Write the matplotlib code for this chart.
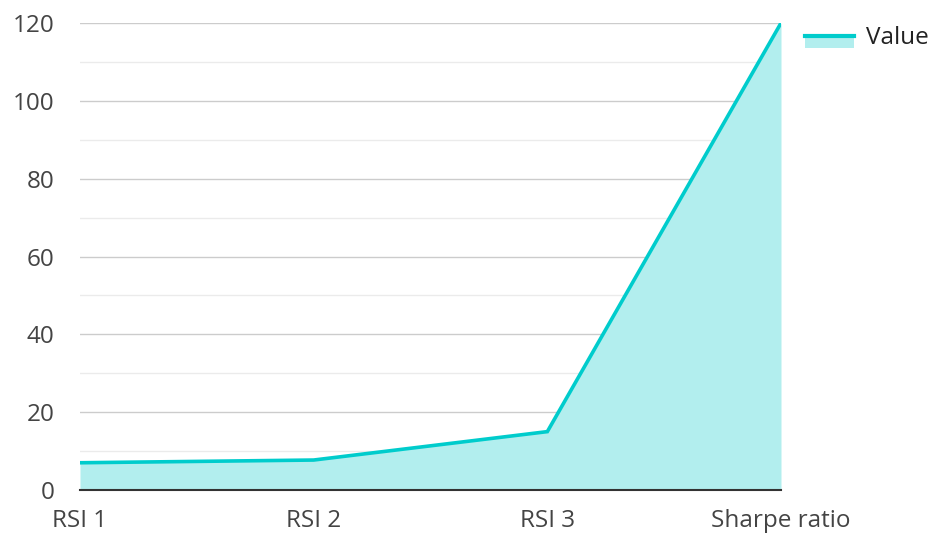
import matplotlib
matplotlib.use("Agg")
import matplotlib.pyplot as plt
from matplotlib.lines import Line2D
from matplotlib.patches import Patch, Rectangle
from matplotlib.legend_handler import HandlerPatch

categories = ["RSI 1", "RSI 2", "RSI 3", "Sharpe ratio"]
values = [7, 7.7, 15, 120]
series_name = "Value"

LINE = "#00cccc"
FILL = "#b2eeee"

plt.rcParams["font.family"] = ["Open Sans", "Noto Sans", "DejaVu Sans"]

fig = plt.figure(figsize=(9.3, 5.33), dpi=100)
ax = fig.add_axes([80 / 930, 1 - 490 / 533, 701 / 930, 467 / 533])

x = list(range(len(categories)))
ax.fill_between(x, values, 0, color=FILL, linewidth=0, zorder=2)
ax.plot(x, values, color=LINE, linewidth=2.6, zorder=3, solid_joinstyle="miter")

ax.set_xlim(0, len(categories) - 1)
ax.set_ylim(0, 120)
ax.set_yticks(range(0, 121, 20))
ax.set_yticks(range(10, 120, 20), minor=True)
ax.set_xticks(x)
ax.set_xticklabels(categories)

ax.grid(axis="y", which="major", color="#cccccc", linewidth=1, zorder=1)
ax.grid(axis="y", which="minor", color="#ebebeb", linewidth=1, zorder=1)
ax.grid(axis="x", visible=False)

for side in ("top", "right", "left"):
    ax.spines[side].set_visible(False)
ax.spines["bottom"].set_color("#333333")
ax.spines["bottom"].set_linewidth(1.5)
ax.spines["bottom"].set_zorder(4)

ax.tick_params(axis="both", which="both", length=0, labelsize=17.5, labelcolor="#444444")
ax.tick_params(axis="y", pad=18.5)
ax.tick_params(axis="x", pad=13.5)


# fill box sits below the line in the legend key
def fill_box(legend, orig_handle, xdescent, ydescent, width, height, fontsize):
    return Rectangle((-xdescent, -ydescent + height / 2 - 9), width, 9)


handle_fill = Patch(facecolor=FILL, edgecolor="none")
handle_line = Line2D([], [], color=LINE, linewidth=3)
fig.legend([(handle_fill, handle_line)], [series_name], loc="upper right",
           bbox_to_anchor=(946 / 930, 1 - 9 / 533), borderaxespad=0.3, frameon=False,
           fontsize=17.5, handlelength=2.0, handletextpad=0.5,
           labelcolor="#222222",
           handler_map={Patch: HandlerPatch(patch_func=fill_box)})

fig.savefig("out.png", dpi=100)
